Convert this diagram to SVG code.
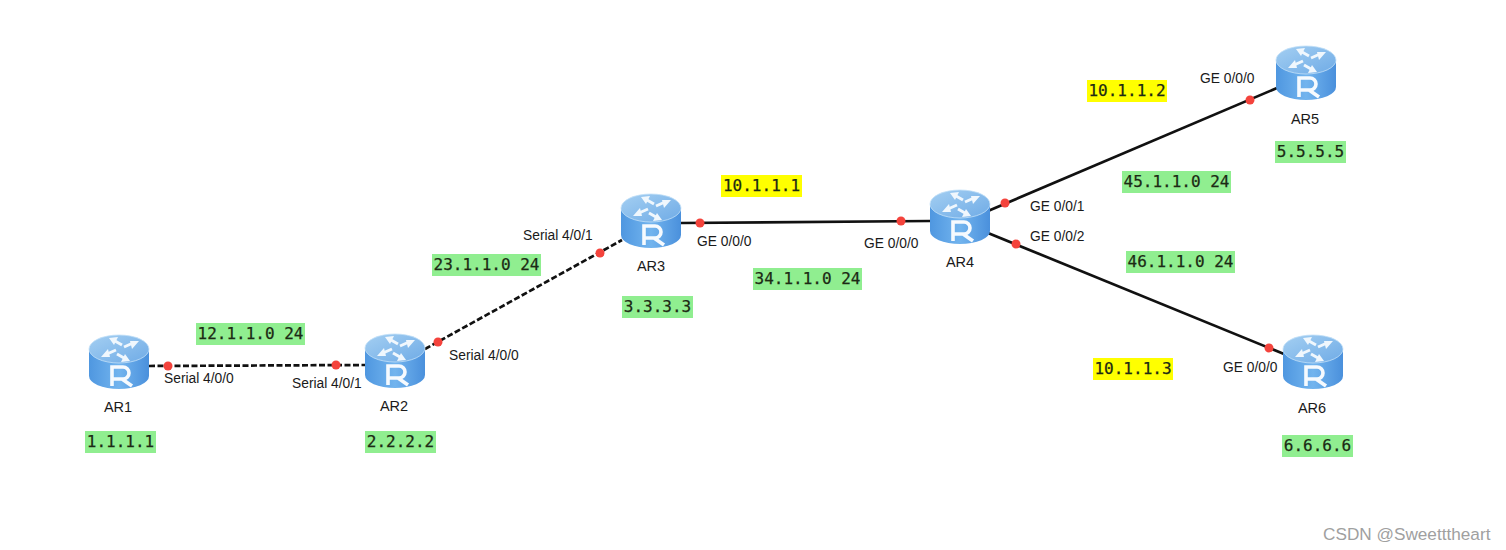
<svg xmlns="http://www.w3.org/2000/svg" width="1506" height="550" viewBox="0 0 1506 550">
<style>
.lnk{fill:none;stroke:#111;stroke-width:2.7}
.dash{stroke-dasharray:6 2.5}
.dot{fill:#f4433c}
.if{font:13.8px "Liberation Sans",Arial,sans-serif;fill:#1a1a1a}
.nm{font:14.5px "Liberation Sans",Arial,sans-serif;fill:#1a1a1a;text-anchor:middle}
.ip{font:16px "DejaVu Sans Mono",monospace;fill:#1c2a14;stroke:#1c2a14;stroke-width:.25;text-anchor:middle}
.g{fill:#90ee90}.y{fill:#ffff00}
.wm{font:17.2px "Liberation Sans",Arial,sans-serif;fill:#a0a0a0}
</style>
<defs>
<linearGradient id="side" x1="0" x2="1" y1="0" y2="0"><stop offset="0" stop-color="#4f97e0"/><stop offset=".5" stop-color="#72b4ee"/><stop offset="1" stop-color="#4a90dc"/></linearGradient>
<linearGradient id="top" x1="0" x2="1" y1="0" y2="1"><stop offset="0" stop-color="#a4cff2"/><stop offset="1" stop-color="#6fabe6"/></linearGradient>
<g id="router">
<path d="M-30-13V14A30 13 0 0 0 30 14V-13Z" fill="url(#side)"/>
<ellipse cy="-13" rx="30" ry="14" fill="url(#top)" stroke="#c2e0f7" stroke-width=".8"/>
<g fill="none" stroke="#f0f7fd" stroke-width="3">
<path d="M-3-12-12-8M5-15 14-19M3-17-4-21M-2-8 5-4"/>
</g>
<g fill="#f0f7fd">
<path d="M-18-5-11-13-9-5Z"/>
<path d="M20-21 13-13 11-21Z"/>
<path d="M-10-24-1-25-5-17Z"/>
<path d="M11-1 2 0 6-8Z"/>
</g>
<path d="M-7 24V5H4A6 6 0 0 1 4 17H-7M3 17 13 24" fill="none" stroke="#f6fafe" stroke-width="3.600"/>
</g>
</defs>
<rect width="1506" height="550" fill="#fff"/>
<g id="connectors">
<path class="lnk dash" d="M149 366 365 365"/>
<path class="lnk dash" d="M425 349 622 240"/>
<path class="lnk" d="M681 223 930 221"/>
<path class="lnk" d="M988 211 1277 88"/>
<path class="lnk" d="M988 233 1284 354"/>
<circle class="dot" cx="168" cy="366" r="4.500"/>
<circle class="dot" cx="336" cy="365" r="4.500"/>
<circle class="dot" cx="438" cy="342" r="4.500"/>
<circle class="dot" cx="600" cy="253" r="4.500"/>
<circle class="dot" cx="700" cy="223" r="4.500"/>
<circle class="dot" cx="901" cy="221" r="4.500"/>
<circle class="dot" cx="1005" cy="203" r="4.500"/>
<circle class="dot" cx="1250" cy="100" r="4.500"/>
<circle class="dot" cx="1016" cy="244" r="4.500"/>
<circle class="dot" cx="1269" cy="348" r="4.500"/>
</g>
<g id="AR1"><use href="#router" x="119" y="362"/><text class="nm" x="118" y="412">AR1</text></g>
<g id="AR2"><use href="#router" x="395" y="361"/><text class="nm" x="394" y="411">AR2</text></g>
<g id="AR3"><use href="#router" x="651" y="221"/><text class="nm" x="651" y="271">AR3</text></g>
<g id="AR4"><use href="#router" x="960" y="217"/><text class="nm" x="960" y="267">AR4</text></g>
<g id="AR5"><use href="#router" x="1306" y="73"/><text class="nm" x="1305" y="124">AR5</text></g>
<g id="AR6"><use href="#router" x="1313" y="362"/><text class="nm" x="1312" y="413">AR6</text></g>
<g id="interface-labels">
<text class="if" x="164" y="383">Serial 4/0/0</text>
<text class="if" x="292" y="388">Serial 4/0/1</text>
<text class="if" x="449" y="360">Serial 4/0/0</text>
<text class="if" x="523" y="240">Serial 4/0/1</text>
<text class="if" x="697" y="246">GE 0/0/0</text>
<text class="if" x="864" y="248">GE 0/0/0</text>
<text class="if" x="1030" y="211">GE 0/0/1</text>
<text class="if" x="1030" y="241">GE 0/0/2</text>
<text class="if" x="1200" y="83">GE 0/0/0</text>
<text class="if" x="1223" y="372">GE 0/0/0</text>
</g>
<g id="address-labels">
<rect class="g" x="85" y="431" width="71" height="22"/><text class="ip" x="120.500" y="447">1.1.1.1</text>
<rect class="g" x="365" y="431" width="71" height="22"/><text class="ip" x="400.500" y="447">2.2.2.2</text>
<rect class="g" x="622" y="296" width="71" height="22"/><text class="ip" x="657.500" y="312">3.3.3.3</text>
<rect class="g" x="1275" y="141" width="71" height="22"/><text class="ip" x="1310.500" y="157">5.5.5.5</text>
<rect class="g" x="1282" y="435" width="71" height="22"/><text class="ip" x="1317.500" y="451">6.6.6.6</text>
<rect class="g" x="196" y="323" width="109" height="22"/><text class="ip" x="250.500" y="339">12.1.1.0 24</text>
<rect class="g" x="432" y="254" width="109" height="22"/><text class="ip" x="486.500" y="270">23.1.1.0 24</text>
<rect class="g" x="753" y="268" width="109" height="22"/><text class="ip" x="807.500" y="284">34.1.1.0 24</text>
<rect class="g" x="1122" y="171" width="109" height="22"/><text class="ip" x="1176.500" y="187">45.1.1.0 24</text>
<rect class="g" x="1126" y="251" width="109" height="22"/><text class="ip" x="1180.500" y="267">46.1.1.0 24</text>
<rect class="y" x="721" y="175" width="81" height="22"/><text class="ip" x="761.500" y="191">10.1.1.1</text>
<rect class="y" x="1087" y="80" width="80" height="22"/><text class="ip" x="1127" y="96">10.1.1.2</text>
<rect class="y" x="1093" y="358" width="80" height="22"/><text class="ip" x="1133" y="374">10.1.1.3</text>
</g>
<text class="wm" x="1323" y="540">CSDN @Sweetttheart</text>
</svg>
